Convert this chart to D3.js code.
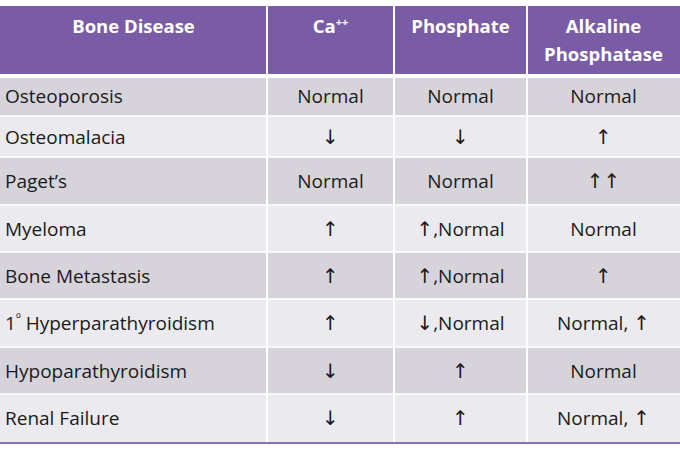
<!DOCTYPE html>
<html><head><meta charset="utf-8">
<script src="https://cdn.jsdelivr.net/npm/d3@7"></script>
<style>body{margin:0;background:#fff}text{font-family:"Open Sans",sans-serif}</style>
</head><body><svg id="c" width="680" height="457"></svg>
<script>
// table content
var headers = [["Bone Disease"], ["Ca++"], ["Phosphate"], ["Alkaline", "Phosphatase"]];
var diseases = ["Osteoporosis", "Osteomalacia", "Paget\u2019s", "Myeloma", "Bone Metastasis",
  "1\u00BA Hyperparathyroidism", "Hypoparathyroidism", "Renal Failure"];
var calcium = ["Normal", "\u2193", "Normal", "\u2191", "\u2191", "\u2191", "\u2193", "\u2193"];
var phosphate = ["Normal", "\u2193", "Normal", "\u2191,Normal", "\u2191,Normal", "\u2193,Normal", "\u2191", "\u2191"];
var alkPhos = ["Normal", "\u2191", "\u2191\u2191", "Normal", "\u2191", "Normal, \u2191", "Normal", "Normal, \u2191"];

var svg = d3.select("#c");
var colEdges = [0, 267, 394, 527, 680];
var rowEdges = [76, 116, 157, 205, 252, 299, 347, 394, 442];
var headTop = 6;

svg.append("rect").attr("x", 0).attr("y", headTop).attr("width", 680).attr("height", rowEdges[0] - headTop).attr("fill", "#7a5ca6");

var rows = diseases.map(function (d, i) { return [d, calcium[i], phosphate[i], alkPhos[i]]; });

var g = svg.selectAll("g.row").data(rows).enter().append("g").attr("class", "row");
g.append("rect").attr("x", 0).attr("width", 680)
  .attr("y", function (d, i) { return rowEdges[i]; })
  .attr("height", function (d, i) { return rowEdges[i + 1] - rowEdges[i]; })
  .attr("fill", function (d, i) { return i % 2 ? "#ebeaee" : "#d6d4da"; });
g.selectAll("text").data(function (d, i) { return d.map(function (v, j) { return { v: v, i: i, j: j }; }); })
  .enter().append("text")
  .attr("x", function (d) { return d.j == 0 ? 5 : (colEdges[d.j] + colEdges[d.j + 1]) / 2; })
  .attr("y", function (d) { return (rowEdges[d.i] + rowEdges[d.i + 1]) / 2 + 7; })
  .attr("text-anchor", function (d) { return d.j == 0 ? "start" : "middle"; })
  .attr("font-size", 19).attr("fill", "#1a1a1a")
  .each(function (d) {
    var t = d3.select(this);
    // arrows and the degree sign get their own tspans
    d.v.split(/([\u2191\u2193\u00BA])/).filter(function (s) { return s; }).forEach(function (s) {
      var sp = t.append("tspan").text(s);
      if (s == "\u2191" || s == "\u2193") sp.attr("font-family", "DejaVu Sans").attr("font-size", 20);
      if (s == "\u00BA") { sp.attr("font-size", 13).attr("dy", -7); }
      else if (t.selectAll("tspan").size() > 1 && d.v.indexOf("\u00BA") >= 0) sp.attr("dy", 7);
    });
  });

// white vertical grid lines and row separators
svg.selectAll("line.v").data(colEdges.slice(1, 4)).enter().append("line")
  .attr("x1", function (d) { return d; }).attr("x2", function (d) { return d; })
  .attr("y1", headTop).attr("y2", rowEdges[8]).attr("stroke", "#fff").attr("stroke-width", 2);
svg.selectAll("line.h").data(rowEdges.slice(0, 8)).enter().append("line")
  .attr("x1", 0).attr("x2", 680).attr("y1", function (d) { return d; }).attr("y2", function (d) { return d; })
  .attr("stroke", "#fff").attr("stroke-width", function (d, i) { return i == 0 ? 4 : 1.5; });
svg.append("line").attr("x1", 0).attr("x2", 680).attr("y1", rowEdges[8] + 1).attr("y2", rowEdges[8] + 1)
  .attr("stroke", "#8b74b5").attr("stroke-width", 2);

// header text
headers.forEach(function (h, j) {
  var cx = (colEdges[j] + colEdges[j + 1]) / 2;
  var t = svg.append("text").attr("x", cx).attr("text-anchor", "middle")
    .attr("font-size", 18.5).attr("font-weight", "bold").attr("fill", "#fff");
  if (j == 1) {
    t.attr("y", 33).text("Ca");
    t.append("tspan").attr("font-size", 11).attr("dy", -7).text("++");
  } else {
    h.forEach(function (line, k) {
      t.append("tspan").attr("x", cx).attr("y", 33 + k * 28).text(line);
    });
  }
});
</script></body></html>
